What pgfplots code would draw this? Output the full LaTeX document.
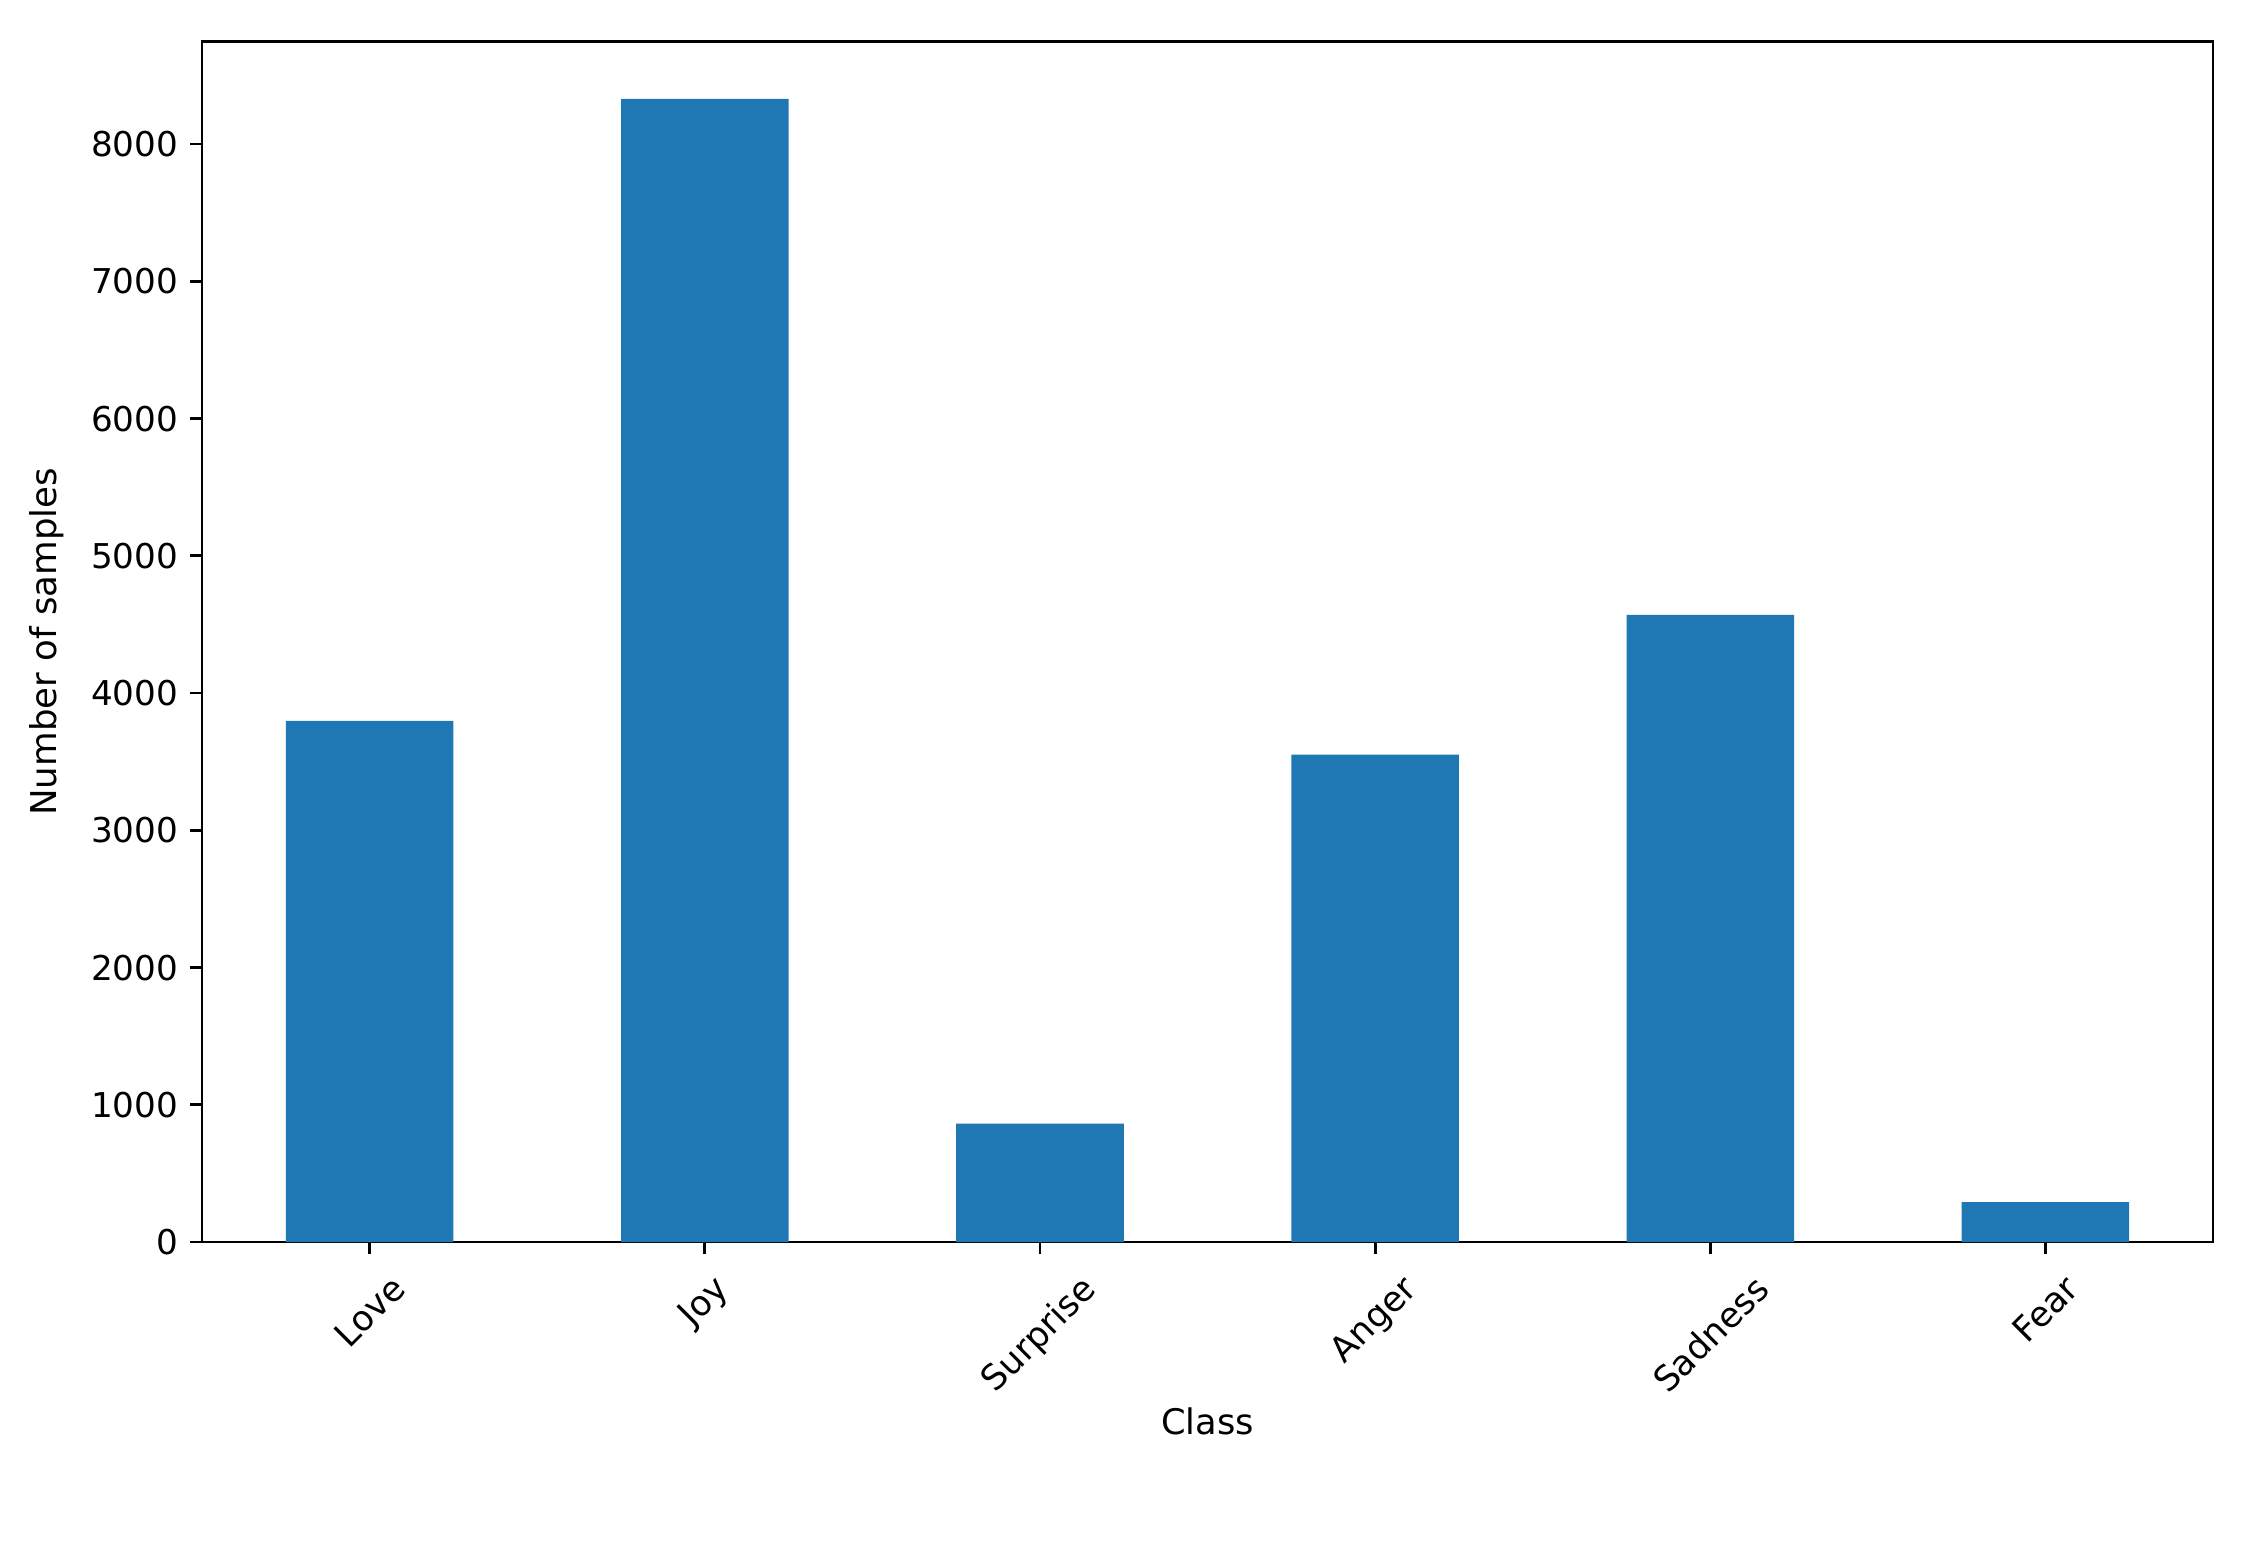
\documentclass[border=0pt]{standalone}
\usepackage{fontspec}
\setmainfont{DejaVu Sans}
\usepackage{graphicx}
\usepackage{pgfplots}
\pgfplotsset{compat=1.18}
\definecolor{mplblue}{HTML}{1F77B4}

\begin{document}
\begin{tikzpicture}
\begin{axis}[
    scale only axis,
    width=588pt, height=351pt,
    xmin=-0.5, xmax=5.5,
    ymin=0, ymax=8746,
    ybar, bar width=0.5,
    xtick={0,1,2,3,4,5},
    xticklabels={\rotatebox{45}{Love},\rotatebox{45}{Joy},\rotatebox{45}{Surprise},
                 \rotatebox{45}{Anger},\rotatebox{45}{Sadness},\rotatebox{45}{Fear}},
    xticklabel style={anchor=north, yshift=-2pt, font=\fontsize{10.2}{12}\selectfont},
    ytick={0,1000,...,8000},
    yticklabel style={font=\fontsize{10}{12}\selectfont},
    scaled y ticks=false,
    /pgf/number format/assume math mode=true,
    /pgf/number format/1000 sep={},
    tick align=outside,
    tick pos=left,
    major tick length=3.5pt,
    axis line style={line width=0.8pt},
    every tick/.style={black, line width=0.8pt},
    xlabel={Class},
    ylabel={Number of samples},
    xlabel style={at={([yshift=-56.4pt]axis description cs:0.5,0)}, anchor=base,
                  font=\fontsize{10.3}{12}\selectfont},
    ylabel style={at={([xshift=-45.4pt]axis description cs:0,0.5)}, anchor=center,
                  font=\fontsize{10.4}{12}\selectfont},
]
\addplot[fill=mplblue, draw=none] coordinates {
    (0,3797)
    (1,8330)
    (2,864)
    (3,3552)
    (4,4570)
    (5,291)
};
\end{axis}
\pgfresetboundingbox
\path[use as bounding box]
    ([xshift=-59.1pt,yshift=-88.3pt]current axis.south west)
    rectangle ([xshift=11.4pt,yshift=12.2pt]current axis.north east);
\end{tikzpicture}
\end{document}
